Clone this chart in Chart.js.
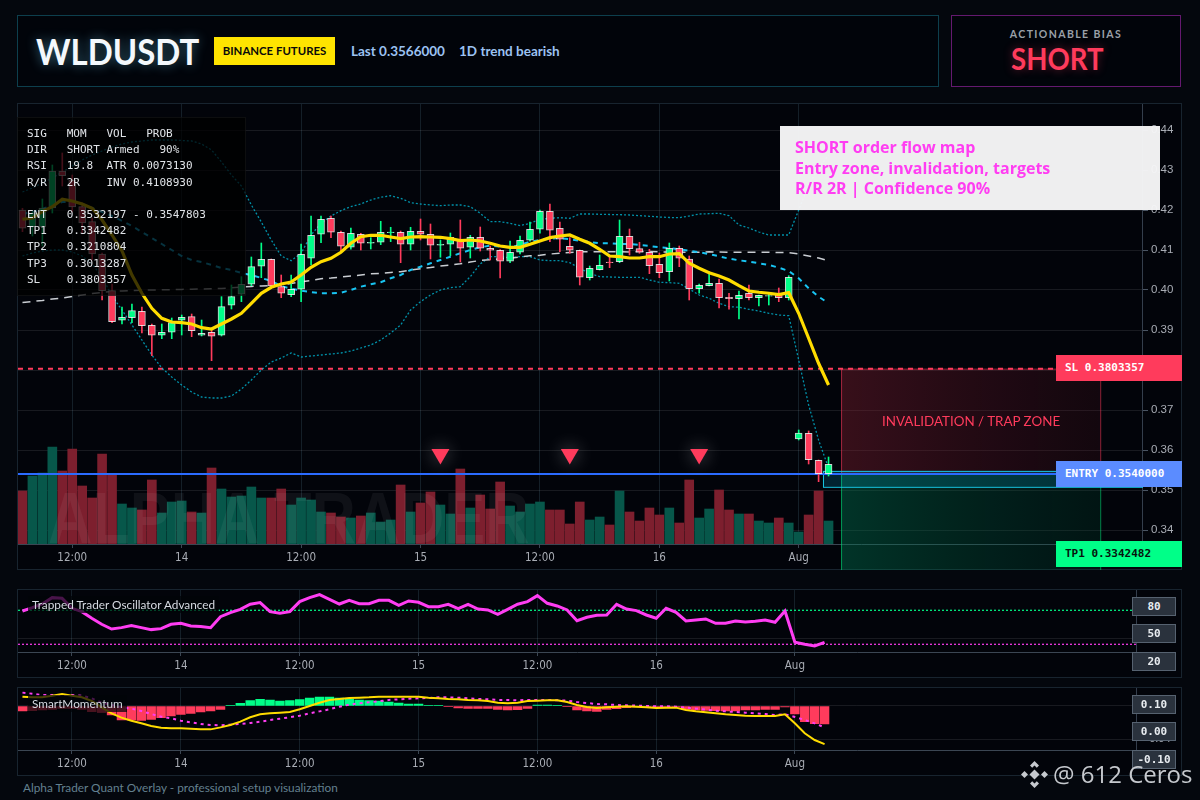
<!DOCTYPE html>
<html>
<head>
<meta charset="utf-8">
<title>WLDUSDT</title>
<script src="https://cdn.jsdelivr.net/npm/chart.js@4/dist/chart.umd.min.js"></script>
<style>
  html, body { margin: 0; padding: 0; background: #04070d; }
  body { position: relative; width: 1200px; height: 800px; overflow: hidden; font-family: Lato, "Open Sans", sans-serif; }
  .abs { position: absolute; }
  canvas { position: absolute; display: block; }
  .frame { position: absolute; border: 1px solid #18242f; box-sizing: border-box; background: #02040a; }
  .tag { position: absolute; left: 1056px; width: 126px; height: 26px; line-height: 26px; font: bold 11px/26px "DejaVu Sans Mono", monospace; padding-left: 9px; box-sizing: border-box; color: #fff; }
  .scale-tag { position: absolute; box-sizing: border-box; width: 44px; height: 19px; left: 1132px; background: #2a323d; border: 1px solid #566270; color: #e8ecf0; font: bold 11px/17px "DejaVu Sans Mono", monospace; text-align: center; }
  .pane-name { position: absolute; background: rgba(2,4,9,.72); color: #d6dbe2; font-size: 11.8px; line-height: 17px; padding: 0 4px; }
</style>
</head>
<body>
<div class="frame" style="left:17px;top:15px;width:922px;height:72px;border-color:#0d3f4d;background:#01040a"></div>
<div class="frame" style="left:951px;top:15px;width:230px;height:72px;border-color:#64196f;background:#01040a"></div>
<div class="abs" style="left:36px;top:29px;font-weight:700;font-size:36px;line-height:44px;color:#f4f8fc;text-shadow:0 0 12px rgba(120,220,255,.45);transform:scaleX(.915);transform-origin:0 0">WLDUSDT</div>
<div class="abs" style="left:214px;top:37px;width:121px;height:28px;background:#ffe400;color:#0a0a0a;font-size:11.4px;font-weight:700;line-height:28px;text-align:center">BINANCE FUTURES</div>
<div class="abs" style="left:351px;top:42px;color:#9cc2f2;font-size:13.5px;font-weight:700;line-height:18px">Last 0.3566000</div>
<div class="abs" style="left:459px;top:42px;color:#9cc2f2;font-size:13.5px;font-weight:700;line-height:18px">1D trend bearish</div>
<div class="abs" style="left:951px;top:27px;width:230px;text-align:center;color:#9aa0a8;font-size:10.5px;font-weight:700;letter-spacing:1.4px;line-height:14px">ACTIONABLE BIAS</div>
<div class="abs" style="left:1011px;top:38px;color:#ff3b5c;font-size:31px;font-weight:700;line-height:40px;text-shadow:0 0 10px rgba(255,59,92,.4);transform:scaleX(.89);transform-origin:0 0">SHORT</div>

<div class="frame" style="left:17px;top:103px;width:1165px;height:467px"></div>
<div class="frame" style="left:17px;top:589px;width:1165px;height:89px"></div>
<div class="frame" style="left:17px;top:687px;width:1165px;height:89px"></div>

<canvas id="mainChart" width="1164" height="466" style="left:18px;top:104px"></canvas>
<canvas id="oscChart" width="1164" height="88" style="left:18px;top:590px"></canvas>
<canvas id="momChart" width="1164" height="88" style="left:18px;top:688px"></canvas>

<div class="abs" style="left:18px;top:482px;width:1124px;height:62px;overflow:hidden">
  <div class="abs" style="left:30px;top:-4px;font:700 73px/80px 'Liberation Sans',sans-serif;color:rgba(255,255,255,.055);white-space:nowrap;transform:scaleX(.84);transform-origin:0 0">ALPHA TRADER</div>
</div>

<div class="abs" style="left:17px;top:117px;width:229px;height:179px;box-sizing:border-box;background:rgba(0,0,0,.74);border:1px solid rgba(255,255,255,.05)"></div>
<div class="abs" style="left:27px;top:126px;color:#e0e4e8;font:11px/16.2px 'DejaVu Sans Mono',monospace;white-space:pre">SIG   MOM   VOL   PROB
DIR   SHORT Armed   90%
RSI   19.8  ATR 0.0073130
R/R   2R    INV 0.4108930

ENT   0.3532197 - 0.3547803
TP1   0.3342482
TP2   0.3210804
TP3   0.3013287
SL    0.3803357</div>

<div class="abs" style="left:780px;top:126px;width:380px;height:84px;background:rgba(246,246,247,.97)"></div>
<div class="abs" style="left:795px;top:137px;color:#ff3df2;font-family:'Open Sans',sans-serif;font-size:16px;font-weight:700;line-height:20.5px;white-space:pre">SHORT order flow map
Entry zone, invalidation, targets
R/R 2R | Confidence 90%</div>

<div class="abs" style="left:882px;top:412px;color:#ff3b5c;font-size:13.4px;line-height:18px">INVALIDATION / TRAP ZONE</div>
<div class="tag" style="top:355px;background:#ff3b5c">SL 0.3803357</div>
<div class="tag" style="top:461px;background:#5b8cff">ENTRY 0.3540000</div>
<div class="tag" style="top:541px;background:#00ff88;color:#06140d">TP1 0.3342482</div>

<div class="pane-name" style="left:28px;top:596px">Trapped Trader Oscillator Advanced</div>
<div class="pane-name" style="left:28px;top:695px">SmartMomentum</div>

<div class="scale-tag" style="top:597px">80</div>
<div class="scale-tag" style="top:624px">50</div>
<div class="scale-tag" style="top:652px">20</div>
<div class="scale-tag" style="top:695px">0.10</div>
<div class="scale-tag" style="top:722px">0.00</div>
<div class="scale-tag" style="top:750px">-0.10</div>

<div class="abs" style="left:23px;top:780px;color:#63808f;font-size:11.8px;line-height:15px">Alpha Trader Quant Overlay - professional setup visualization</div>

<svg class="abs" style="left:1020px;top:760px" width="29" height="29" viewBox="0 0 29 29" fill="#c6c9ce">
  <path d="M14.5 1l4.5 4.5-2.2 2.2-2.3-2.3-2.3 2.3L10 5.500z"/>
  <path d="M14.500 28l-4.500-4.500 2.200-2.200 2.300 2.300 2.300-2.300 2.200 2.200z"/>
  <path d="M1 14.500l3.500-3.500 3.500 3.500-3.500 3.500z"/>
  <path d="M21 14.500l3.500-3.500 3.500 3.500-3.500 3.500z"/>
  <path d="M14.500 9.500l5 5-5 5-5-5z"/>
</svg>
<div class="abs" style="left:1053px;top:757px;color:#c6c9ce;font-family:'Open Sans',sans-serif;font-size:24px;line-height:34px;white-space:nowrap">@ 612 Ceros</div>

<script>
// candles
const opens = [
  .42,.41575,.41575,.4205,.42975,.4275,.42083,.41708,.409,.39983,
  .39243,.39308,.39468,.39118,.38868,.38943,.39243,.39333,.38868,.38943,
  .38868,.39618,.39893,.40143,.40593,.40768,.40083,.39883,.40018,.40793,
  .41393,.41793,.41443,.41068,.41393,.41168,.41193,.41433,.41443,.41143,
  .41468,.41393,.41118,.41143,.41268,.41068,.41318,.41043,.40993,.40718,
  .40943,.41243,.41518,.41968,.41543,.41093,.40993,.40308,.40508,.407,
  .40708,.41343,.41033,.40943,.40643,.40458,.41043,.40775,.40033,.40108,
  .40168,.39818,.39783,.39918,.39808,.39843,.39908,.39808,.36275,.36418,
  .35743,.35408];
const closes = [
  .41543,.41925,.4205,.42975,.42858,.42075,.41675,.409,.39983,.39208,
  .39318,.39483,.39108,.38868,.38943,.39183,.39318,.38983,.38918,.38843,
  .39583,.39833,.40143,.40583,.40768,.401,.39918,.40018,.40893,.41368,
  .41768,.41443,.41093,.41418,.41168,.41193,.41443,.4145,.41143,.41468,
  .41393,.41118,.41143,.41318,.41043,.41318,.41043,.40993,.40718,.40943,
  .41243,.41518,.41968,.41493,.41268,.40993,.40318,.40543,.40618,.40683,
  .41343,.41033,.40943,.40608,.40433,.41043,.40793,.40033,.40118,.40168,
  .39808,.39783,.39868,.39808,.39868,.39858,.39808,.40318,.36425,.35758,
  .35408,.35643];
const highs = [
  .42043,.4195,.42275,.43125,.43425,.42875,.42175,.418,.40925,.4015,
  .39575,.3965,.39575,.3915,.3915,.393,.39375,.394,.3925,.3905,
  .39833,.40125,.40333,.40825,.41175,.40775,.40375,.40375,.4115,.4185,
  .4185,.4185,.41475,.4155,.41418,.41308,.41718,.41568,.41475,.41568,
  .41775,.4165,.4125,.41425,.4175,.41368,.41575,.411,.41008,.41225,
  .4135,.417,.42,.4215,.417,.41308,.41,.406,.40875,.40833,
  .4175,.41525,.41193,.41018,.40925,.41175,.411,.4085,.4015,.40458,
  .40275,.39918,.39975,.40125,.39875,.39925,.4005,.40358,.365,.36475,
  .3575,.35825];
const lows = [
  .41458,.4135,.411,.41925,.426,.4195,.41425,.4075,.3975,.39183,
  .3915,.39183,.38925,.38358,.38783,.38783,.38875,.38833,.3885,.38233,
  .3885,.39525,.39708,.40108,.40308,.40068,.39808,.39833,.39708,.40625,
  .41183,.41308,.40958,.41018,.41,.41025,.41133,.41208,.40683,.41,
  .4125,.40775,.40818,.40858,.407,.408,.40975,.4075,.403,.40683,
  .409,.41218,.41418,.41208,.40958,.40918,.40125,.4025,.405,.40558,
  .40683,.40875,.40918,.40408,.40308,.40225,.40583,.3975,.39918,.401,
  .3955,.39518,.39275,.3975,.396,.39625,.39708,.3975,.3625,.3565,
  .35208,.3535];
const volumes = [
  53,68,71,97,73,95,58,46,90,69,
  40,36,34,64,31,42,43,32,31,76,
  55,47,48,57,46,46,55,39,46,44,
  32,31,27,26,28,31,22,24,59,32,
  41,52,39,30,75,36,49,35,62,38,
  32,40,42,34,34,20,42,24,27,19,
  53,32,23,36,29,36,21,64,26,35,
  54,34,30,30,23,21,26,21,12,29,
  53,23];

// overlays on the price pane
const emaLine = [
  .41768,.418,.41958,.42083,.42268,.42225,.4215,.42043,.4175,.41375,
  .40975,.40375,.39918,.39543,.39293,.392,.39183,.3915,.39058,.39025,
  .3915,.39275,.39418,.39668,.39918,.40068,.4015,.402,.40375,.40568,
  .40708,.40793,.40943,.41168,.41333,.41368,.41368,.41325,.41283,.41325,
  .41333,.41325,.41318,.41283,.41233,.4125,.41225,.41168,.411,.41068,
  .41068,.41143,.41225,.41308,.4135,.41375,.41268,.41168,.41018,.4085,
  .40833,.408,.408,.40833,.40833,.409,.40908,.40668,.40543,.40433,
  .4035,.4025,.40108,.39975,.39943,.39918,.39883,.39933,.39418,.38793,
  .38168,.37625];
const midBand = [
  .419,.4195,.42025,.42125,.422,.422,.4215,.4205,.4195,.4185,
  .41725,.416,.4145,.413,.4115,.41,.4085,.4075,.407,.40625,
  .4055,.405,.40425,.40375,.403,.40225,.401,.40033,.39988,.39943,
  .39918,.39918,.39933,.4,.40083,.40143,.40193,.40293,.40375,.405,
  .40583,.40668,.4075,.40833,.40918,.41,.41068,.41108,.41083,.41068,
  .41125,.41208,.4125,.41283,.413,.41268,.41233,.412,.41168,.41168,
  .4115,.4115,.41125,.411,.41068,.41043,.41018,.40983,.40943,.409,
  .40843,.40783,.40743,.40708,.40668,.40625,.40558,.40475,.40293,.40043,
  .39833,.39668];
const upperBand = [
  .4245,.4255,.42675,.428,.4295,.431,.4325,.43375,.43475,.43575,
  .4365,.437,.43725,.4375,.4375,.4375,.43738,.43725,.4365,.435,
  .432,.42875,.426,.42125,.417,.4125,.4085,.40733,.40918,.41375,
  .41668,.4185,.41983,.42083,.4215,.4225,.42318,.42358,.42293,.42183,
  .4215,.42125,.42108,.42125,.42125,.42083,.41918,.41708,.41708,.41668,
  .41608,.41668,.41768,.41793,.41808,.41793,.419,.419,.41893,.41888,
  .41883,.41875,.41858,.41843,.41825,.41813,.41808,.4185,.419,.41908,
  .41918,.41858,.41625,.4155,.4145,.41375,.41375,.41375,.42,.42625,
  .4305,.43375];
const lowerBand = [
  .4085,.40925,.40975,.41,.41,.4095,.4085,.4065,.40325,.3985,
  .395,.39125,.3875,.38375,.3805,.37825,.37625,.3745,.37325,.373,
  .373,.3735,.37525,.3775,.38,.382,.383,.38425,.38325,.3835,
  .38375,.384,.38425,.38475,.3855,.38625,.3875,.38925,.39125,.395,
  .39708,.39875,.4,.40058,.40083,.40333,.4065,.40833,.40833,.40808,
  .40833,.40833,.4075,.40733,.40733,.40683,.40543,.40418,.40333,.40325,
  .40318,.40318,.40318,.4025,.40193,.40183,.40168,.40025,.39875,.39793,
  .39668,.39583,.39568,.39518,.39475,.39418,.39375,.39358,.3825,.37125,
  .3625,.3555];
const slowLine = [
  .39688,.39713,.39738,.39775,.398,.39838,.39875,.39913,.39938,.39963,
  .39975,.39988,.39993,.4,.40005,.4001,.40015,.4002,.40025,.4003,
  .40038,.40055,.40075,.40088,.401,.40113,.40125,.40163,.40208,.40238,
  .40283,.403,.40325,.4035,.40375,.40405,.40418,.40438,.40458,.405,
  .40533,.40563,.406,.40625,.40655,.407,.40738,.40755,.4078,.40793,
  .40825,.40855,.40868,.409,.40918,.40938,.40958,.40958,.40958,.40958,
  .40955,.4095,.4096,.4096,.40955,.4095,.4095,.40945,.40945,.40955,
  .4095,.40945,.40945,.40945,.40945,.40943,.40935,.40935,.409,.4085,
  .408,.40733];

// trade levels and sell signals
const slPrice = 0.3803357;
const entryPrice = 0.3540000;
const entryBoxTop = 0.3547803;
const entryBoxBottom = 0.3508;
const signalIdx = [42, 55, 68];
const signalPrice = [.35895, .35895, .35895];

// oscillator pane
const oscValues = [
  78.8,84.7,91.1,102.3,101.1,83.5,77.6,65.9,55.3,47,
  49.4,52.9,49.4,45.9,47.6,55.3,57,52.3,51.2,49.4,
  68.8,75.9,81.7,90.6,93.5,77.6,74.7,77.6,95.3,102.3,
  107.6,99.4,91.1,97.6,91.7,91.7,97.6,97.6,88.8,96.4,
  94.1,86.4,86.4,90.6,82.9,90.6,82.3,80.6,72.9,81.7,
  90.6,95.3,105.8,92.3,87.6,80.6,61.7,67.6,71.2,71.7,
  90.6,82.3,79.4,71.7,65.9,83.5,76.4,61.2,62.9,64.7,
  57,57,61.2,59.4,60.6,62.9,58.8,78.8,23.5,20,
  17.1,23.5];
const oscHigh = 80;
const oscLow = 20;

// momentum pane
const histValues = [
  -.0061,-.0057,-.0048,-.004,-.0028,-.0028,-.004,-.0069,-.0073,-.0109,
  -.017,-.017,-.0174,-.0162,-.0141,-.0121,-.0101,-.0089,-.0073,-.0061,
  -.004,.0008,.0032,.0065,.0081,.0073,.0061,.0065,.0077,.0097,
  .0109,.0109,.0097,.0081,.0073,.0065,.0061,.0048,.0036,.0024,
  .0024,.0008,.0003,-.0008,-.0024,-.0028,-.0028,-.0028,-.004,-.0048,
  -.0044,-.0028,.0012,.0012,.0004,-.0008,-.0048,-.0061,-.0065,-.004,
  -.0032,-.002,-.0012,-.0008,-.0012,-.0012,-.0012,-.004,-.0048,-.0053,
  -.0057,-.0061,-.0061,-.0048,-.0048,-.004,-.004,-.0012,-.0097,-.019,
  -.0214,-.0218];
const momFast = [
  .0113,.0105,.0105,.0125,.0145,.0125,.0105,.0061,-.0016,-.0089,
  -.0141,-.0178,-.021,-.0242,-.0263,-.0271,-.0271,-.0275,-.0283,-.0283,
  -.0259,-.0231,-.019,-.0137,-.0101,-.0089,-.0081,-.0073,-.004,0,
  .004,.0073,.0085,.0097,.0101,.0105,.0113,.0113,.0113,.0113,
  .0113,.0101,.0093,.0085,.0081,.0073,.0069,.0061,.004,.0032,
  .004,.0061,.0065,.0069,.0069,.0048,.0012,-.0012,-.0024,-.0016,
  -.0008,-.0004,-.0008,-.0016,-.0024,-.002,-.002,-.0048,-.0065,-.0077,
  -.0089,-.0101,-.0109,-.0117,-.0121,-.0121,-.0121,-.0101,-.021,-.0331,
  -.0412,-.0461];
const momSignal = [
  .0162,.0149,.0133,.0133,.0133,.0133,.0125,.0093,.004,.0012,
  -.0012,-.0032,-.0061,-.0097,-.0129,-.0149,-.0178,-.0198,-.0218,-.023,
  -.0234,-.0226,-.0218,-.0206,-.019,-.017,-.0154,-.0137,-.0117,-.0089,
  -.0065,-.004,-.0008,.0016,.0032,.0044,.0057,.0073,.0081,.0089,
  .0093,.0097,.0105,.0105,.0101,.0093,.0085,.0081,.0073,.0073,
  .0069,.0073,.0073,.0073,.0069,.0065,.0048,.0036,.0024,.002,
  .0012,.0008,.0004,0,-.0004,-.0004,-.0008,-.002,-.0032,-.0044,
  -.0057,-.0065,-.0073,-.0081,-.0089,-.0097,-.0109,-.0101,-.0133,-.017,
  -.021,-.0259];

// axis ticks
const timeTickIdx = [5, 16, 28, 40, 52, 64, 78];
const timeTickLabels = ['12:00', '14', '12:00', '15', '12:00', '16', 'Aug'];
const priceTicks = [.34, .35, .36, .37, .38, .39, .40, .41, .42, .43, .44];

const GREEN = '#00ff88';
const RED = '#ff3b5c';
const XMIN = -0.45;
const XMAX = 112.5;

const isUp = opens.map((o, i) => closes[i] >= o);
const byDir = (up, down) => isUp.map(u => (u ? up : down));
const series = values => values.map((v, i) => ({ x: i, y: v }));
const flatLine = y => [{ x: XMIN, y }, { x: XMAX, y }];

function lineSet(values, color, width, dash, order) {
  return {
    type: 'line', data: series(values), borderColor: color, borderWidth: width,
    borderDash: dash || [], pointRadius: 0, tension: 0, order, yAxisID: 'y',
  };
}

// the axis keeps the box it is given, no extra room for its end labels
function noPad(s) {
  s.paddingLeft = s.paddingRight = s.paddingTop = s.paddingBottom = 0;
}

function timeAxis() {
  return {
    type: 'linear', min: XMIN, max: XMAX, position: 'bottom', offset: false,
    afterBuildTicks: s => { s.ticks = timeTickIdx.map(v => ({ value: v })); },
    afterFit: s => { s.height = 26; noPad(s); },
    grid: { offset: false, color: 'rgba(46,70,84,.42)', tickLength: 4, tickColor: '#3b4653' },
    border: { color: '#3b4653', width: 1 },
    ticks: {
      color: '#a9adb5', font: { family: '"DejaVu Sans Condensed"', size: 11.5 }, padding: 3,
      maxRotation: 0, autoSkip: false, includeBounds: false,
      callback: v => timeTickLabels[timeTickIdx.indexOf(v)],
    },
  };
}

const baseOptions = {
  responsive: false, animation: false, devicePixelRatio: 1,
  layout: { padding: 0, autoPadding: false },
  plugins: { legend: { display: false }, tooltip: { enabled: false } },
  datasets: { bar: { grouped: false } },
};

// zones behind the candles, placed through the scales
const zonePlugin = {
  id: 'zones',
  beforeDatasetsDraw(chart) {
    const { ctx, scales } = chart;
    const px = scales.x, py = scales.y;
    const left = px.getPixelForValue(82.26), right = px.getPixelForValue(108.3);
    const slY = py.getPixelForValue(slPrice), enY = py.getPixelForValue(entryPrice);
    const bottom = chart.height;

    ctx.save();
    let g = ctx.createLinearGradient(left, 0, right, 0);
    g.addColorStop(0, 'rgba(130,32,50,.42)');
    g.addColorStop(1, 'rgba(90,20,35,.2)');
    ctx.fillStyle = g;
    ctx.fillRect(left, slY, right - left, enY - slY);

    g = ctx.createLinearGradient(left, 0, right, 0);
    g.addColorStop(0, 'rgba(0,125,85,.4)');
    g.addColorStop(1, 'rgba(0,80,55,.22)');
    ctx.fillStyle = g;
    ctx.fillRect(left, enY, right - left, bottom - enY);

    ctx.lineWidth = 1;
    ctx.strokeStyle = 'rgba(255,59,92,.55)';
    ctx.strokeRect(left + .5, slY + .5, right - left, enY - slY);
    ctx.strokeStyle = 'rgba(0,255,136,.5)';
    ctx.beginPath();
    ctx.moveTo(left + .5, enY); ctx.lineTo(left + .5, bottom);
    ctx.moveTo(right + .5, enY); ctx.lineTo(right + .5, bottom);
    ctx.stroke();

    const boxL = px.getPixelForValue(80.44), boxR = px.getPixelForValue(XMAX);
    const boxT = py.getPixelForValue(entryBoxTop), boxB = py.getPixelForValue(entryBoxBottom);
    ctx.fillStyle = 'rgba(0,200,255,.16)';
    ctx.fillRect(boxL, boxT, boxR - boxL, boxB - boxT);
    ctx.strokeStyle = '#17c9e6';
    ctx.strokeRect(boxL + .5, boxT + .5, boxR - boxL, boxB - boxT);
    ctx.restore();
  },
  beforeDatasetDraw(chart, args) {
    if (chart.data.datasets[args.index].glow) {
      chart.ctx.save();
      chart.ctx.shadowColor = 'rgba(255,255,255,.4)';
      chart.ctx.shadowBlur = 18;
    }
  },
  afterDatasetDraw(chart, args) {
    if (chart.data.datasets[args.index].glow) chart.ctx.restore();
  },
};

new Chart(document.getElementById('mainChart'), {
  type: 'bar',
  plugins: [zonePlugin],
  data: {
    datasets: [
      { label: 'Volume', yAxisID: 'vol', order: 10, barThickness: 9,
        data: series(volumes), backgroundColor: byDir('#07574a', '#7d1f2e') },
      { type: 'line', label: 'SL', yAxisID: 'y', order: 9, data: flatLine(slPrice),
        borderColor: RED, borderWidth: 2, borderDash: [5, 5], pointRadius: 0 },
      { type: 'line', label: 'Entry', yAxisID: 'y', order: 8, data: flatLine(entryPrice),
        borderColor: '#2b6bff', borderWidth: 2, pointRadius: 0 },
      Object.assign(lineSet(upperBand, 'rgba(0,200,230,.72)', 1.3, [2, 2], 7), { label: 'BB upper' }),
      Object.assign(lineSet(lowerBand, 'rgba(0,200,230,.72)', 1.3, [2, 2], 7), { label: 'BB lower' }),
      Object.assign(lineSet(slowLine, '#c9cdd2', 1.5, [8, 6], 6), { label: 'MA slow' }),
      Object.assign(lineSet(midBand, '#18c4f2', 2, [5, 5], 5), { label: 'BB mid' }),
      { label: 'Wicks', yAxisID: 'y', order: 4, barThickness: 1,
        data: lows.map((l, i) => ({ x: i, y: [l, highs[i]] })),
        backgroundColor: byDir(GREEN, RED) },
      { label: 'Bodies', yAxisID: 'y', order: 3, barThickness: 7,
        data: opens.map((o, i) => ({ x: i, y: [o, closes[i]] })),
        backgroundColor: byDir(GREEN, RED), borderColor: 'rgba(255,255,255,.82)', borderWidth: 1, borderSkipped: false },
      Object.assign(lineSet(emaLine, '#ffdc00', 3.2, [], 2), { label: 'EMA', borderCapStyle: 'butt' }),
      { type: 'scatter', label: 'Signals', yAxisID: 'y', order: 1, glow: true,
        data: signalIdx.map((x, i) => ({ x, y: signalPrice[i] })),
        pointStyle: 'triangle', pointRotation: 180, pointRadius: 10.4, pointBorderWidth: 0,
        backgroundColor: RED },
    ],
  },
  options: Object.assign({}, baseOptions, {
    scales: {
      x: timeAxis(),
      y: {
        position: 'right', min: 0.3365, max: 0.4465,
        afterBuildTicks: s => { s.ticks = priceTicks.map(v => ({ value: v })); },
        afterFit: s => { s.width = 40; noPad(s); },
        grid: { color: 'rgba(255,255,255,.09)', tickLength: 6, tickColor: '#4a5462' },
        border: { color: '#343e4c' },
        ticks: { color: '#a9adb5', font: { family: '"Liberation Sans"', size: 11.5 }, padding: 3, callback: v => v.toFixed(2) },
      },
      vol: { display: false, min: 0, max: 440 },
    },
  }),
});

new Chart(document.getElementById('oscChart'), {
  type: 'line',
  data: {
    datasets: [
      { label: '80', data: flatLine(oscHigh), borderColor: GREEN, borderWidth: 1.2, borderDash: [2, 2], pointRadius: 0, order: 3 },
      { label: '20', data: flatLine(oscLow), borderColor: '#ff3df2', borderWidth: 1.2, borderDash: [2, 2], pointRadius: 0, order: 2 },
      { label: 'Oscillator', data: series(oscValues), borderColor: '#ff3df2', borderWidth: 3, pointRadius: 0, order: 1 },
    ],
  },
  options: Object.assign({}, baseOptions, {
    scales: {
      x: timeAxis(),
      y: {
        position: 'right', min: 6.4, max: 115.8,
        afterBuildTicks: s => { s.ticks = [{ value: 30 }]; },
        afterFit: s => { s.width = 45.5; noPad(s); },
        grid: { color: 'rgba(255,255,255,.09)', tickLength: 5, tickColor: '#3b4653' },
        border: { color: '#343e4c' },
        ticks: { color: '#a9adb5', font: { size: 11 }, display: false },
      },
    },
  }),
});

new Chart(document.getElementById('momChart'), {
  type: 'bar',
  data: {
    datasets: [
      { label: 'Histogram', order: 3, barThickness: 8.8, data: series(histValues),
        backgroundColor: histValues.map(v => (v >= 0 ? GREEN : RED)) },
      Object.assign(lineSet(momSignal, '#ff3df2', 2, [3, 4], 2), { label: 'Signal' }),
      Object.assign(lineSet(momFast, '#ffdc00', 2, [], 1), { label: 'Momentum' }),
    ],
  },
  options: Object.assign({}, baseOptions, {
    scales: {
      x: timeAxis(),
      y: {
        position: 'right', min: -0.0533, max: 0.0218,
        afterBuildTicks: s => { s.ticks = [{ value: 0 }, { value: -0.04 }]; },
        afterFit: s => { s.width = 45.5; noPad(s); },
        grid: { color: 'rgba(255,255,255,.09)', tickLength: 5, tickColor: '#3b4653' },
        border: { color: '#343e4c' },
        ticks: { color: '#a9adb5', font: { family: '"Liberation Sans"', size: 11 }, padding: 4, callback: v => v.toFixed(2) },
      },
    },
  }),
});
</script>
</body>
</html>
